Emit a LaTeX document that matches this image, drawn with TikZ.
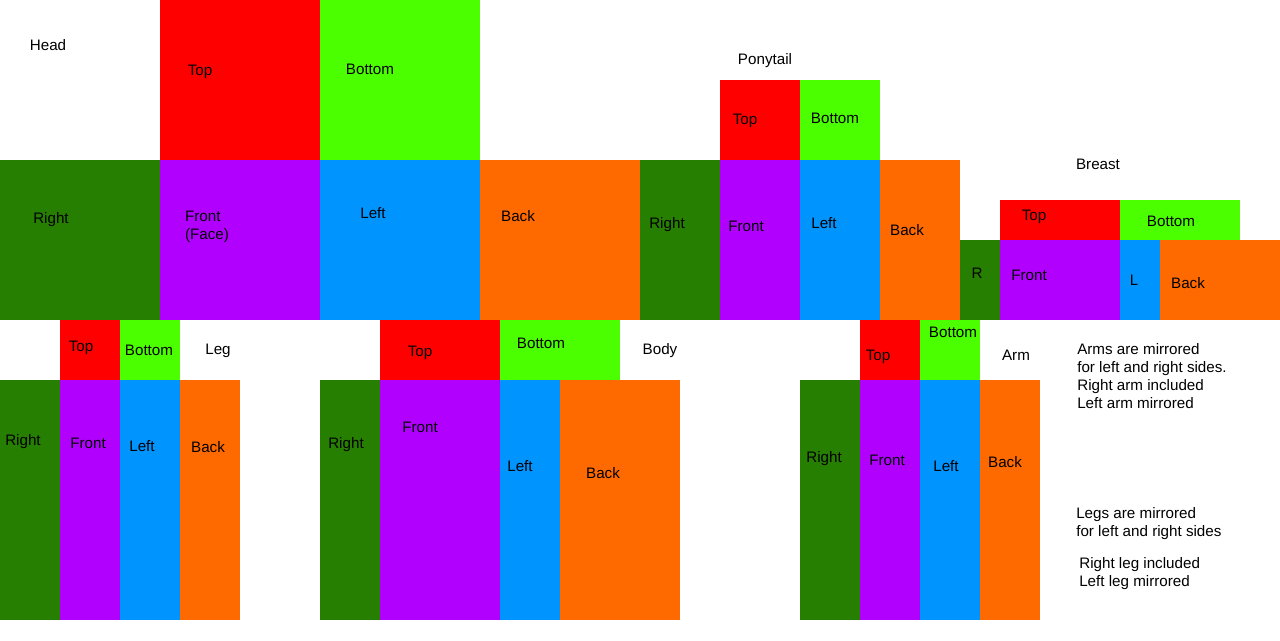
\documentclass[tikz,border=0pt]{standalone}
\usepackage{fontspec}
\setmainfont{Liberation Sans}
\usetikzlibrary{positioning}

\definecolor{skinTop}{HTML}{FF0000}
\definecolor{skinBottom}{HTML}{4CFF00}
\definecolor{skinRight}{HTML}{267F00}
\definecolor{skinFront}{HTML}{B200FF}
\definecolor{skinLeft}{HTML}{0094FF}
\definecolor{skinBack}{HTML}{FF6A00}

\begin{document}
\begin{tikzpicture}[
    x=0.025cm, y=-0.025cm,
    top/.style={fill=skinTop},
    bottom/.style={fill=skinBottom},
    right/.style={fill=skinRight},
    front/.style={fill=skinFront},
    left/.style={fill=skinLeft},
    back/.style={fill=skinBack},
    lbl/.style={font=\fontsize{10.8}{12.8}\selectfont, inner sep=0pt, yshift=-0.05cm},
    note/.style={font=\fontsize{10.8}{12.8}\selectfont, inner sep=0pt, anchor=north west, align=left}
]
\useasboundingbox (0,0) rectangle (1280,640);

% --- Head ---
\fill[top] (160,0) rectangle (320,160);
\fill[bottom] (320,0) rectangle (480,160);
\fill[right] (0,160) rectangle (160,320);
\fill[front] (160,160) rectangle (320,320);
\fill[left] (320,160) rectangle (480,320);
\fill[back] (480,160) rectangle (640,320);
\node[lbl] (head) at (48,43) {Head};
\node[lbl] (headTop) at (200,70) {Top};
\node[lbl] (headBottom) at (370,67) {Bottom};
\node[lbl] (headRight) at (51,218) {Right};
\node[lbl, align=left] (headFront) at (207,225) {Front\\(Face)};
\node[lbl] (headLeft) at (373,211) {Left};
\node[lbl] (headBack) at (518,214) {Back};

% --- Ponytail ---
\fill[top] (720,80) rectangle (800,160);
\fill[bottom] (800,80) rectangle (880,160);
\fill[right] (640,160) rectangle (720,320);
\fill[front] (720,160) rectangle (800,320);
\fill[left] (800,160) rectangle (880,320);
\fill[back] (880,160) rectangle (960,320);
\node[lbl] (pony) at (765,59) {Ponytail};
\node[lbl] (ponyTop) at (745,119) {Top};
\node[lbl] (ponyBottom) at (835,116) {Bottom};
\node[lbl] (ponyRight) at (667,223) {Right};
\node[lbl] (ponyFront) at (746,224) {Front};
\node[lbl] (ponyLeft) at (824,221) {Left};
\node[lbl] (ponyBack) at (907,228) {Back};

% --- Breast ---
\fill[top] (1000,200) rectangle (1120,240);
\fill[bottom] (1120,200) rectangle (1240,240);
\fill[right] (960,240) rectangle (1000,320);
\fill[front] (1000,240) rectangle (1120,320);
\fill[left] (1120,240) rectangle (1160,320);
\fill[back] (1160,240) rectangle (1280,320);
\node[lbl] (breast) at (1098,162) {Breast};
\node[lbl] (breastTop) at (1034,215) {Top};
\node[lbl] (breastBottom) at (1171,219) {Bottom};
\node[lbl] (breastR) at (977,271) {R};
\node[lbl] (breastFront) at (1029,273) {Front};
\node[lbl] (breastL) at (1134,278) {L};
\node[lbl] (breastBack) at (1188,281) {Back};

% --- Leg ---
\fill[top] (60,320) rectangle (120,380);
\fill[bottom] (120,320) rectangle (180,380);
\fill[right] (0,380) rectangle (60,620);
\fill[front] (60,380) rectangle (120,620);
\fill[left] (120,380) rectangle (180,620);
\fill[back] (180,380) rectangle (240,620);
\node[lbl] (leg) at (218,349) {Leg};
\node[lbl] (legTop) at (81,346) {Top};
\node[lbl] (legBottom) at (149,348) {Bottom};
\node[lbl] (legRight) at (23,440) {Right};
\node[lbl] (legFront) at (88,441) {Front};
\node[lbl] (legLeft) at (142,444) {Left};
\node[lbl] (legBack) at (208,445) {Back};

% --- Body ---
\fill[top] (380,320) rectangle (500,380);
\fill[bottom] (500,320) rectangle (620,380);
\fill[right] (320,380) rectangle (380,620);
\fill[front] (380,380) rectangle (500,620);
\fill[left] (500,380) rectangle (560,620);
\fill[back] (560,380) rectangle (680,620);
\node[lbl] (body) at (660,349) {Body};
\node[lbl] (bodyTop) at (420,351) {Top};
\node[lbl] (bodyBottom) at (541,341) {Bottom};
\node[lbl] (bodyRight) at (346,443) {Right};
\node[lbl] (bodyFront) at (420,425) {Front};
\node[lbl] (bodyLeft) at (520,464) {Left};
\node[lbl] (bodyBack) at (603,471) {Back};

% --- Arm ---
\fill[top] (860,320) rectangle (920,380);
\fill[bottom] (920,320) rectangle (980,380);
\fill[right] (800,380) rectangle (860,620);
\fill[front] (860,380) rectangle (920,620);
\fill[left] (920,380) rectangle (980,620);
\fill[back] (980,380) rectangle (1040,620);
\node[lbl] (arm) at (1016,353) {Arm};
\node[lbl] (armTop) at (878,355) {Top};
\node[lbl] (armBottom) at (953,330) {Bottom};
\node[lbl] (armRight) at (824,457) {Right};
\node[lbl] (armFront) at (887,458) {Front};
\node[lbl] (armLeft) at (946,464) {Left};
\node[lbl] (armBack) at (1005,460) {Back};

% --- Notes ---
\node[note] (armNote) at (1077,343) {Arms are mirrored\\for left and right sides.\\Right arm included\\Left arm mirrored};
\node[note] (legNote) at (1076,507) {Legs are mirrored\\for left and right sides};
\node[note] (legNote2) at (1079,557) {Right leg included\\Left leg mirrored};

\end{tikzpicture}
\end{document}
